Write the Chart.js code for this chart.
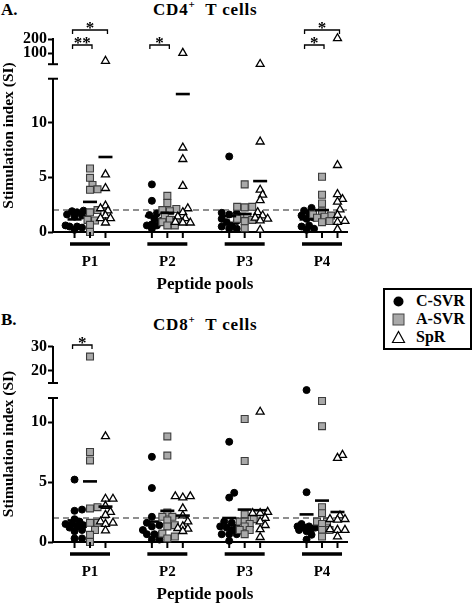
<!DOCTYPE html>
<html>
<head>
<meta charset="utf-8">
<script src="https://cdn.jsdelivr.net/npm/chart.js@4.4.1/dist/chart.umd.min.js"></script>
<style>
  body { margin: 0; background: #fff; width: 474px; height: 603px; position: relative; overflow: hidden; font-family: "Liberation Serif", serif; }
  canvas { position: absolute; left: 0; }
  #cA { top: 0; }
  #cB { top: 300px; }
  .lab { position: absolute; font-weight: bold; font-size: 17px; line-height: 17px; white-space: nowrap; color: #000; }
  .ttl { letter-spacing: 0.8px; }
  .lab sup { font-size: 11px; position: relative; top: -7px; vertical-align: baseline; line-height: 0; }
  #legend { position: absolute; left: 383px; top: 288px; width: 85px; height: 58px; border: 2.6px solid #000; background: #fff; }
  #legend .it { position: absolute; left: 0; height: 18px; width: 85px; }
  #legend svg { position: absolute; left: 6px; top: 2px; }
  #legend span { position: absolute; left: 31px; top: 0; font-weight: bold; font-size: 16px; line-height: 18px; }
</style>
</head>
<body>
<div class="lab" style="left:1px; top:1px;">A.</div>
<div class="lab ttl" style="left:153px; top:1px;">CD4<sup>+</sup>&nbsp; T cells</div>
<div class="lab" style="left:1px; top:311px;">B.</div>
<div class="lab ttl" style="left:153px; top:316px;">CD8<sup>+</sup>&nbsp; T cells</div>
<canvas id="cA" width="380" height="300"></canvas>
<canvas id="cB" width="380" height="303"></canvas>
<div id="legend">
  <div class="it" style="top:2px"><svg width="15" height="15"><circle cx="7.5" cy="7.5" r="5" fill="#000"/></svg><span>C-SVR</span></div>
  <div class="it" style="top:20px"><svg width="15" height="15"><rect x="2" y="2" width="11" height="11" fill="#a9a9a9" stroke="#444" stroke-width="1"/></svg><span>A-SVR</span></div>
  <div class="it" style="top:38px"><svg width="15" height="15"><polygon points="7.5,1.5 13.5,12.5 1.5,12.5" fill="#fff" stroke="#000" stroke-width="1.2"/></svg><span>SpR</span></div>
</div>
<script>
// pools and groups
const pools = ["P1", "P2", "P3", "P4"];
const groupNames = ["C-SVR", "A-SVR", "SpR"];
const threshold = 2;

// CD4+ T cells: one inner list per pool (P1..P4)
const cd4CSVR = [
  [1.95, 1.9, 1.8, 1.6, 1.5, 1.4, 0.6, 0.5, 0.5, 0.4, 0.2],
  [4.35, 2.85, 1.7, 1.55, 1.2, 1.0, 0.7, 0.6, 0.6, 0.3],
  [6.9, 1.75, 1.7, 1.6, 1.2, 1.0, 0.9, 0.6, 0.5, 0.3, 0.3],
  [2.2, 1.95, 1.7, 1.5, 1.3, 1.2, 0.6, 0.5, 0.3, 0.2]
];
const cd4ASVR = [
  [5.8, 4.95, 4.3, 3.9, 3.85, 2.0, 1.8, 1.1, 1.05, 0.65, 0.0],
  [3.3, 2.65, 2.1, 2.0, 1.9, 1.5, 1.1, 1.1, 0.9, 0.6, 0.6],
  [4.35, 2.3, 2.3, 2.25, 1.4, 1.3, 1.2, 1.1, 1.0, 0.35],
  [5.05, 3.4, 2.6, 1.9, 1.6, 1.5, 1.4, 1.3, 1.0, 0.9]
];
const cd4SpR = [
  [43, 5.25, 4.0, 2.4, 2.15, 1.95, 1.5, 1.25, 1.25, 0.85],
  [100, 7.7, 6.65, 4.2, 2.15, 1.8, 1.4, 1.25, 0.9, 0.85, 0.85],
  [21, 8.25, 3.85, 3.4, 2.9, 1.8, 1.5, 1.3, 1.2, 1.05, 0.2],
  [205, 6.1, 3.45, 3.0, 2.75, 2.05, 1.55, 1.0, 0.9, 0.25]
];
const cd4MeanCSVR = [1.15, 1.45, 1.45, 1.15];
const cd4MeanASVR = [2.75, 1.75, 1.65, 2.0];
const cd4MeanSpR = [6.85, 12.6, 4.65, null];

// CD8+ T cells
const cd8CSVR = [
  [5.2, 2.7, 2.6, 1.9, 1.7, 1.5, 1.5, 1.4, 1.3, 1.2, 1.0, 0.9, 0.3, 0.3],
  [7.1, 4.5, 2.1, 1.6, 1.4, 1.3, 1.0, 0.65, 0.65, 0.65, 0.2, 0.2],
  [8.35, 4.1, 3.7, 1.7, 1.6, 1.3, 1.2, 1.2, 1.0, 0.65, 0.65, 0.65, 0.1],
  [12.05, 4.15, 1.5, 1.3, 1.3, 1.2, 1.2, 1.1, 1.0, 0.9, 0.6, 0.2]
];
const cd8ASVR = [
  [26, 7.5, 6.8, 2.9, 2.8, 1.6, 1.6, 1.0, 0.6, 0.0],
  [8.8, 7.2, 2.45, 2.1, 2.1, 1.8, 1.4, 1.3, 0.7, 0.45, 0.3],
  [10.25, 6.75, 2.3, 1.9, 1.7, 1.7, 1.5, 1.3, 1.0, 1.0, 0.65],
  [11.75, 9.65, 2.9, 2.4, 1.7, 1.7, 1.5, 1.0, 1.0, 0.45]
];
const cd8SpR = [
  [8.8, 3.6, 3.6, 3.0, 2.5, 2.25, 1.7, 1.6, 1.5, 0.95],
  [3.8, 3.8, 3.7, 2.8, 2.2, 1.7, 1.3, 1.15, 1.1, 0.9],
  [10.85, 2.5, 2.4, 2.4, 2.0, 1.7, 1.4, 1.05, 0.4],
  [7.25, 7.0, 2.2, 1.9, 1.9, 1.85, 1.05, 1.0, 1.0, 0.45]
];
const cd8MeanCSVR = [1.8, 1.7, 2.0, 2.3];
const cd8MeanASVR = [5.05, 2.6, 2.7, 3.45];
const cd8MeanSpR = [2.95, 2.2, 2.65, 2.5];

// y tick labels, lower and upper segment of the broken axis
const cd4TicksLow = [0, 5, 10];
const cd4TicksHigh = [100, 200];
const cd8TicksLow = [0, 5, 10];
const cd8TicksHigh = [20, 30];

// significance brackets: [pool, from group, to group, level, label]
const cd4Sig = [[1, 0, 2, 1, "*"], [1, 0, 1, 0, "**"], [2, 0, 1, 0, "*"], [4, 0, 2, 1, "*"], [4, 0, 1, 0, "*"]];
const cd8Sig = [[1, 0, 1, 0, "*"]];

// layout
const groupOffset = [-0.2, 0, 0.2];
const xMin = 0.5215, xMax = 4.323;
const serif = '"Liberation Serif", "Times New Roman", serif';
const markers = [
  { pointStyle: "circle", pointRadius: 3.5, pointBackgroundColor: "#000", pointBorderColor: "#000", pointBorderWidth: 1 },
  { pointStyle: "rect", pointRadius: 4.9, pointBackgroundColor: "#a9a9a9", pointBorderColor: "#3c3c3c", pointBorderWidth: 1.1 },
  { pointStyle: "triangle", pointRadius: 4.6, pointBackgroundColor: "#fff", pointBorderColor: "#000", pointBorderWidth: 1.3 }
];

const panels = [
  {
    canvas: "cA", values: [cd4CSVR, cd4ASVR, cd4SpR], means: [cd4MeanCSVR, cd4MeanASVR, cd4MeanSpR],
    ticksLow: cd4TicksLow, ticksHigh: cd4TicksHigh, sig: cd4Sig,
    lowEnd: 14, highStart: 20, lowMax: 14.66, highMin: -32.1, highMax: 210, weights: [160.5, 33.9],
    padTop: 37.6, xHeight: 68, sigY: [45, 30], yTitleY: 135.5
  },
  {
    canvas: "cB", values: [cd8CSVR, cd8ASVR, cd8SpR], means: [cd8MeanCSVR, cd8MeanASVR, cd8MeanSpR],
    ticksLow: cd8TicksLow, ticksHigh: cd8TicksHigh, sig: cd8Sig,
    lowEnd: 12, highStart: 15, lowMax: 12.667, highMin: 12.08, highMax: 30.83, weights: [152, 45],
    padTop: 45, xHeight: 61, sigY: [45], yTitleY: 144
  }
];

// spread overlapping points sideways (beeswarm), in pixels
function swarm(chart) {
  const xs = chart.scales.x;
  const buckets = {};
  chart.data.datasets.forEach((ds) => {
    if (ds.swarm === undefined) return;
    const ys = chart.scales[ds.yAxisID];
    ds.data.forEach((pt) => {
      const k = ds.swarm + ":" + pt.pool;
      (buckets[k] = buckets[k] || []).push({ pt, py: ys.getPixelForValue(pt.y), cx: xs.getPixelForValue(pt.base) });
    });
  });
  const steps = [0, 2.5, -2.5, 5, -5, 7.5, -7.5, 9, -9];
  Object.values(buckets).forEach((list) => {
    list.sort((a, b) => b.py - a.py);
    const placed = [];
    list.forEach((p) => {
      let best = 0, bestD = -1;
      for (const s of steps) {
        let d = Infinity;
        placed.forEach((q) => { d = Math.min(d, Math.hypot(q.px - (p.cx + s), q.py - p.py)); });
        if (d >= 5.5) { best = s; break; }
        if (d > bestD) { bestD = d; best = s; }
      }
      p.px = p.cx + best;
      placed.push(p);
      p.pt.x = xs.getValueForPixel(p.px);
    });
  });
  chart.update("none");
}

function buildPanel(p) {
  const datasets = [];
  // dashed threshold at SI = 2
  datasets.push({
    data: [{ x: xMin, y: threshold }, { x: xMax, y: threshold }], yAxisID: "y", showLine: true,
    borderColor: "#8f8f8f", borderWidth: 2, borderDash: [6, 4], pointRadius: 0, order: 9, clip: false
  });
  groupNames.forEach((g, gi) => {
    const low = [], high = [];
    p.values[gi].forEach((list, pi) => {
      list.forEach((v) => {
        const base = pi + 1 + groupOffset[gi];
        (v > p.lowEnd ? high : low).push({ x: base, y: v, base, pool: pi });
      });
    });
    datasets.push({ label: g, data: low, yAxisID: "y", swarm: gi, order: 6 - gi, clip: false, ...markers[gi] });
    datasets.push({ label: g, data: high, yAxisID: "yHi", swarm: gi, order: 6 - gi, clip: false, ...markers[gi] });
  });
  // group means
  const meanPts = [];
  p.means.forEach((list, gi) => list.forEach((m, pi) => {
    if (m !== null) meanPts.push({ x: pi + 1 + groupOffset[gi], y: m });
  }));
  datasets.push({ data: meanPts, yAxisID: "y", pointStyle: "line", pointRadius: 7, pointBorderWidth: 2.6, pointBorderColor: "#000", order: 0, clip: false });

  const tickFont = { family: serif, weight: "bold", size: 16 };
  const yCommon = {
    type: "linear", position: "left", stack: "s",
    grid: { drawOnChartArea: false, drawTicks: true, tickLength: 5, tickWidth: 2, tickColor: "#000" },
    border: { display: false },
    ticks: { font: tickFont, color: "#000", padding: 1 },
    afterFit: (s) => { s.width = 53; }
  };

  const decor = {
    id: "decor",
    afterDraw(chart) {
      const { ctx, chartArea: a, scales } = chart;
      const x = scales.x, y = scales.y, yHi = scales.yHi;
      const line = (x0, y0, x1, y1) => { ctx.beginPath(); ctx.moveTo(x0, y0); ctx.lineTo(x1, y1); ctx.stroke(); };
      ctx.save();
      ctx.strokeStyle = "#000";
      ctx.fillStyle = "#000";
      ctx.lineWidth = 2;
      // broken y axis
      line(a.left, y.getPixelForValue(0) + 1, a.left, y.getPixelForValue(p.lowEnd));
      line(a.left, yHi.getPixelForValue(p.highStart), a.left, yHi.getPixelForValue(Math.max(...p.ticksHigh)) - 1);
      [y.getPixelForValue(p.lowEnd), yHi.getPixelForValue(p.highStart)].forEach((py) => line(a.left - 5, py, a.left + 5, py));
      // group ticks and pool bars under the x axis
      pools.forEach((name, pi) => {
        ctx.lineWidth = 2;
        groupOffset.forEach((off) => {
          const px = x.getPixelForValue(pi + 1 + off);
          line(px, a.bottom, px, a.bottom + 6);
        });
        const c = x.getPixelForValue(pi + 1);
        ctx.lineWidth = 3.6;
        line(c - 20, a.bottom + 12, c + 20, a.bottom + 12);
      });
      // significance brackets
      ctx.lineWidth = 1.3;
      ctx.font = "bold 17px " + serif;
      ctx.textAlign = "center";
      ctx.textBaseline = "alphabetic";
      p.sig.forEach(([pool, g0, g1, level, label]) => {
        const x0 = x.getPixelForValue(pool + groupOffset[g0]) - 2;
        const x1 = x.getPixelForValue(pool + groupOffset[g1]) + 2;
        const by = p.sigY[level];
        ctx.beginPath();
        ctx.moveTo(x0, by + 4); ctx.lineTo(x0, by); ctx.lineTo(x1, by); ctx.lineTo(x1, by + 4);
        ctx.stroke();
        ctx.fillText(label, (x0 + x1) / 2, by + 3);
      });
      // axis titles
      ctx.textBaseline = "middle";
      ctx.font = "bold 17px " + serif;
      ctx.fillText("Peptide pools", 205, a.bottom + 53);
      ctx.translate(9, p.yTitleY);
      ctx.rotate(-Math.PI / 2);
      ctx.font = "bold 15.5px " + serif;
      ctx.fillText("Stimulation index (SI)", 0, 0);
      ctx.restore();
    }
  };

  const chart = new Chart(document.getElementById(p.canvas), {
    type: "scatter",
    data: { datasets },
    options: {
      responsive: false,
      animation: false,
      events: [],
      layout: { padding: { left: 0, right: 33, top: p.padTop, bottom: 0 } },
      plugins: { legend: { display: false }, tooltip: { enabled: false } },
      scales: {
        x: {
          type: "linear", min: xMin, max: xMax,
          afterBuildTicks: (s) => { s.ticks = pools.map((n, i) => ({ value: i + 1 })); },
          ticks: { callback: (v) => pools[v - 1], font: { family: serif, weight: "bold", size: 15 }, color: "#000", padding: 13, autoSkip: false, maxRotation: 0 },
          grid: { display: false },
          border: { display: true, color: "#000", width: 2 },
          afterFit: (s) => { s.height = p.xHeight; }
        },
        y: {
          ...yCommon, min: 0, max: p.lowMax, stackWeight: p.weights[0],
          afterBuildTicks: (s) => { s.ticks = p.ticksLow.map((v) => ({ value: v })); }
        },
        yHi: {
          ...yCommon, min: p.highMin, max: p.highMax, stackWeight: p.weights[1],
          afterBuildTicks: (s) => { s.ticks = p.ticksHigh.map((v) => ({ value: v })); }
        }
      }
    },
    plugins: [decor]
  });
  swarm(chart);
}

panels.forEach(buildPanel);
</script>
</body>
</html>
